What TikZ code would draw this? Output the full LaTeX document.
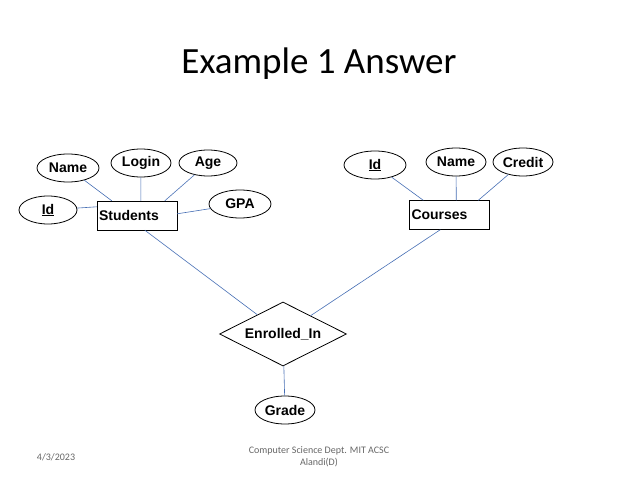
\documentclass[tikz,border=0pt]{standalone}
\usepackage{fontspec}
\setmainfont{Liberation Sans}
\newfontfamily\carlitofont{Carlito}
\usetikzlibrary{shapes.geometric}
\begin{document}
\begin{tikzpicture}[x=1pt,y=-1pt,
 attr/.style={draw,ellipse,thick,minimum width=60pt,minimum height=28pt,inner sep=0pt,font=\bfseries\fontsize{14}{16}\selectfont},
 ent/.style={draw,minimum width=80pt,minimum height=29pt,inner sep=2pt,text width=76pt,align=left,font=\bfseries\fontsize{14}{16}\selectfont},
 ln/.style={draw={rgb,255:red,70;green,110;blue,180},semithick}]
\useasboundingbox (0,0) rectangle (638,478);
\node[font=\carlitofont\fontsize{37}{40}\selectfont] (title) at (319,64) {Example 1 Answer};
\node[ent] (stu) at (137,215.5) {\raisebox{-3pt}{Students}};
\node[ent] (crs) at (449.5,215) {\raisebox{-3pt}{Courses}};
\node[attr,minimum width=62pt] (name1) at (68,168) {Name};
\node[attr] (login) at (141,163) {Login};
\node[attr,minimum width=58pt,minimum height=26pt] (age) at (208,163) {Age};
\node[attr,minimum width=62pt] (gpa) at (240,204) {GPA};
\node[attr,minimum width=58pt] (id1) at (48,210) {\underline{Id}};
\node[attr,minimum width=62pt] (id2) at (375,165) {\underline{Id}};
\node[attr] (name2) at (456,162) {Name};
\node[attr] (credit) at (523,162) {Credit};
\node[draw,diamond,thick,aspect=2,minimum width=127pt,minimum height=64pt,inner sep=0pt,font=\bfseries\fontsize{14}{16}\selectfont] (enr) at (283,334) {Enrolled\_In};
\node[attr] (grade) at (285,410) {Grade};
\path[ln] (name1) -- ([xshift=15pt]stu.north west);
\path[ln] (login) -- ([xshift=44pt]stu.north west);
\path[ln] (age) -- ([xshift=68pt]stu.north west);
\path[ln] (gpa) -- ([yshift=-13pt]stu.north east);
\path[ln] (id1) -- ([yshift=-6pt]stu.north west);
\path[ln] ([xshift=48pt]stu.south west) -- (enr);
\path[ln] ([xshift=31pt]crs.south west) -- (enr);
\path[ln] (id2) -- ([xshift=14pt]crs.north west);
\path[ln] (name2) -- ([xshift=47pt]crs.north west);
\path[ln] (credit) -- ([xshift=69pt]crs.north west);
\path[ln] (enr) -- (grade);
\node[font=\carlitofont\fontsize{10}{12}\selectfont,text=gray!80!black] (date) at (56,457) {4/3/2023};
\node[font=\carlitofont\fontsize{10}{12}\selectfont,text=gray!80!black,align=center] (foot) at (319,457) {Computer Science Dept. MIT ACSC\\Alandi(D)};
\end{tikzpicture}
\end{document}
